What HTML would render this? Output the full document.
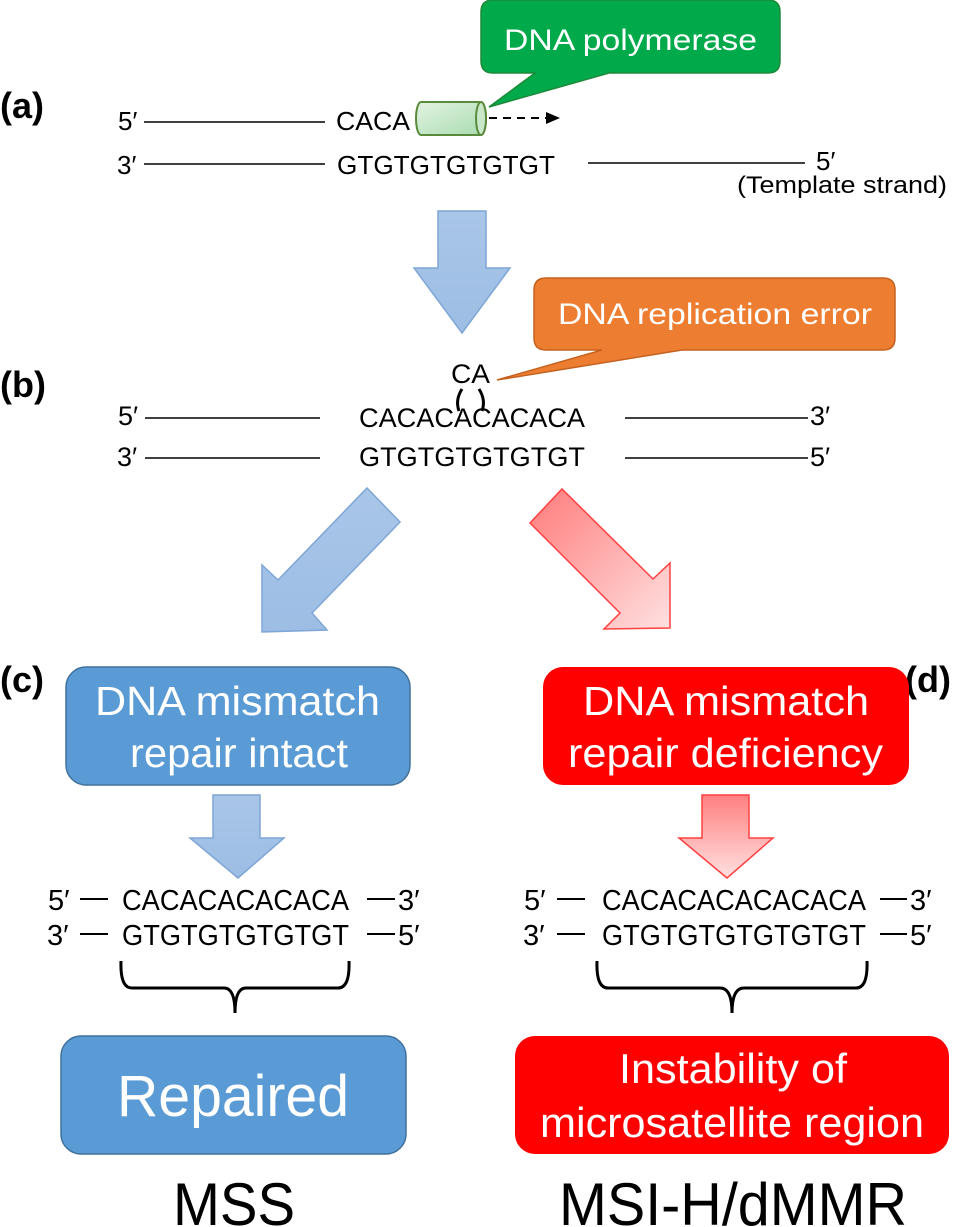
<!DOCTYPE html>
<html><head><meta charset="utf-8"><style>
html,body{margin:0;padding:0;background:#fff;}
svg{display:block;}
text{font-family:"Liberation Sans",Arial,sans-serif;}
</style></head><body>
<svg width="967" height="1227" viewBox="0 0 967 1227" xmlns="http://www.w3.org/2000/svg">
<defs>
<linearGradient id="cyl" x1="0" y1="0" x2="1" y2="1"><stop offset="0" stop-color="#e3f3e3"/><stop offset="1" stop-color="#a8dcae"/></linearGradient>
<linearGradient id="blu" x1="0" y1="0" x2="0" y2="1"><stop offset="0" stop-color="#a9c6e8"/><stop offset="1" stop-color="#9dbde4"/></linearGradient>
<linearGradient id="red" x1="0" y1="0" x2="1" y2="1"><stop offset="0" stop-color="#ff7b7b"/><stop offset="1" stop-color="#ffe0e0"/></linearGradient>
<linearGradient id="red2" x1="0" y1="0" x2="0" y2="1"><stop offset="0" stop-color="#ff8080"/><stop offset="1" stop-color="#ffe0e0"/></linearGradient>
</defs>
<g stroke="#000" stroke-width="1.5">
<line x1="144" y1="122" x2="325" y2="122"/>
<line x1="144" y1="164" x2="325" y2="164"/>
<line x1="588" y1="163" x2="805" y2="163"/>
<line x1="145" y1="418" x2="320" y2="418"/>
<line x1="145" y1="458" x2="320" y2="458"/>
<line x1="625" y1="418" x2="808" y2="418"/>
<line x1="625" y1="458" x2="808" y2="458"/>
</g>
<g font-size="26" fill="#000">
<text x="118" y="130">5′</text>
<text x="117" y="174">3′</text>
<text x="336" y="130" textLength="74" lengthAdjust="spacingAndGlyphs">CACA</text>
<text x="337" y="174" textLength="218" lengthAdjust="spacingAndGlyphs">GTGTGTGTGTGT</text>
<text x="816" y="170">5′</text>
<text x="737" y="193" font-size="24" textLength="210" lengthAdjust="spacingAndGlyphs">(Template strand)</text>
</g>
<text x="0" y="118" font-size="36" font-weight="bold">(a)</text>
<text x="0" y="397" font-size="36" font-weight="bold">(b)</text>
<text x="0" y="692" font-size="36" font-weight="bold">(c)</text>
<text x="905" y="692" font-size="36" font-weight="bold">(d)</text>
<path d="M421,102 L481,102 A5,16.5 0 0 1 481,135 L421,135 A5,16.5 0 0 1 421,102 Z" fill="url(#cyl)" stroke="#5a8a3c" stroke-width="2"/>
<ellipse cx="481" cy="118.5" rx="5" ry="16.5" fill="#c9e8c9" stroke="#5a8a3c" stroke-width="2"/>
<line x1="489" y1="118" x2="549" y2="118" stroke="#000" stroke-width="2" stroke-dasharray="8,6"/>
<polygon points="560,118 546,112 546,124" fill="#000"/>
<path d="M493,0 L768,0 Q780,0 780,12 L780,61 Q780,73 768,73 L609,73 L489,107 L535,73 L493,73 Q481,73 481,61 L481,12 Q481,0 493,0Z" fill="#00aa4a" stroke="#1d8a3a" stroke-width="1.5"/>
<text x="504" y="50" font-size="30" fill="#fff" textLength="253" lengthAdjust="spacingAndGlyphs">DNA polymerase</text>
<polygon points="438,211 486,211 486,268 510,268 462,333 414,268 438,268" fill="url(#blu)" stroke="#7ea6d6" stroke-width="1.5"/>
<path d="M546,278 L883,278 Q895,278 895,290 L895,338 Q895,350 883,350 L682,350 L497,380 L602,350 L546,350 Q534,350 534,338 L534,290 Q534,278 546,278Z" fill="#ed7d31" stroke="#c5621f" stroke-width="1.5"/>
<text x="558" y="324" font-size="30" fill="#fff" textLength="314" lengthAdjust="spacingAndGlyphs">DNA replication error</text>
<text x="451" y="383" font-size="27" textLength="39" lengthAdjust="spacingAndGlyphs">CA</text>
<path d="M462,389 Q455,400 459,411" fill="none" stroke="#000" stroke-width="3"/>
<path d="M479,389 Q486,400 482,411" fill="none" stroke="#000" stroke-width="3"/>
<g font-size="27">
<text x="118" y="425">5′</text>
<text x="117" y="466">3′</text>
<text x="810" y="425">3′</text>
<text x="810" y="466">5′</text>
<text x="359" y="427" textLength="226" lengthAdjust="spacingAndGlyphs">CACACACACACA</text>
<text x="359" y="466" textLength="226" lengthAdjust="spacingAndGlyphs">GTGTGTGTGTGT</text>
</g>
<polygon points="367,488 400,522 312,613 327,630 262,632 262,565 278,580" fill="url(#blu)" stroke="#7ea6d6" stroke-width="1.5"/>
<polygon points="530,523 562,489 653,579 670,563 670,628 604,629 620,613" fill="url(#red)" stroke="#ff4040" stroke-width="1.5"/>
<rect x="66" y="667" width="344" height="118" rx="20" fill="#5b9bd5" stroke="#41719c" stroke-width="1.5"/>
<text x="95" y="715" font-size="41" fill="#fff" textLength="285" lengthAdjust="spacingAndGlyphs">DNA mismatch</text>
<text x="130" y="767" font-size="41" fill="#fff" textLength="218" lengthAdjust="spacingAndGlyphs">repair intact</text>
<rect x="543" y="667" width="366" height="118" rx="20" fill="#ff0000"/>
<text x="583" y="715" font-size="41" fill="#fff" textLength="286" lengthAdjust="spacingAndGlyphs">DNA mismatch</text>
<text x="568" y="767" font-size="41" fill="#fff" textLength="315" lengthAdjust="spacingAndGlyphs">repair deficiency</text>
<polygon points="213,795 260,795 260,838 284,838 238,878 190,838 213,838" fill="url(#blu)" stroke="#7ea6d6" stroke-width="1.5"/>
<polygon points="702,795 749,795 749,838 773,838 727,878 679,838 702,838" fill="url(#red2)" stroke="#ff4040" stroke-width="1.5"/>
<g font-size="29">
<text x="48" y="910">5′</text>
<text x="47" y="945">3′</text>
<text x="122" y="910" textLength="227" lengthAdjust="spacingAndGlyphs">CACACACACACA</text>
<text x="122" y="945" textLength="227" lengthAdjust="spacingAndGlyphs">GTGTGTGTGTGT</text>
<text x="398" y="910">3′</text>
<text x="398" y="945">5′</text>
<text x="524" y="910">5′</text>
<text x="523" y="945">3′</text>
<text x="602" y="910" textLength="264" lengthAdjust="spacingAndGlyphs">CACACACACACACA</text>
<text x="602" y="945" textLength="264" lengthAdjust="spacingAndGlyphs">GTGTGTGTGTGTGT</text>
<text x="910" y="910">3′</text>
<text x="910" y="945">5′</text>
</g>
<g stroke="#000" stroke-width="2">
<line x1="80" y1="899" x2="108" y2="899"/><line x1="80" y1="934" x2="108" y2="934"/>
<line x1="367" y1="899" x2="395" y2="899"/><line x1="367" y1="934" x2="395" y2="934"/>
<line x1="557" y1="899" x2="585" y2="899"/><line x1="557" y1="934" x2="585" y2="934"/>
<line x1="880" y1="899" x2="907" y2="899"/><line x1="880" y1="934" x2="907" y2="934"/>
</g>
<path d="M121,961 Q120,988 132,988 L224,988 Q235,988 235,1013 Q235,988 246,988 L338,988 Q350,988 349,961" fill="none" stroke="#000" stroke-width="3"/>
<path d="M597,961 Q596,988 608,988 L720,988 Q732,988 732,1013 Q732,988 744,988 L856,988 Q868,988 867,961" fill="none" stroke="#000" stroke-width="3"/>
<rect x="61" y="1036" width="345" height="118" rx="20" fill="#5b9bd5" stroke="#41719c" stroke-width="1.5"/>
<text x="117" y="1116" font-size="58" fill="#fff" textLength="232" lengthAdjust="spacingAndGlyphs">Repaired</text>
<rect x="515" y="1036" width="434" height="118" rx="20" fill="#ff0000"/>
<text x="619" y="1083" font-size="42" fill="#fff" textLength="228" lengthAdjust="spacingAndGlyphs">Instability of</text>
<text x="540" y="1137" font-size="42" fill="#fff" textLength="384" lengthAdjust="spacingAndGlyphs">microsatellite region</text>
<text x="173" y="1225" font-size="60" textLength="122" lengthAdjust="spacingAndGlyphs">MSS</text>
<text x="559" y="1225" font-size="60" textLength="348" lengthAdjust="spacingAndGlyphs">MSI-H/dMMR</text>
</svg>
</body></html>
